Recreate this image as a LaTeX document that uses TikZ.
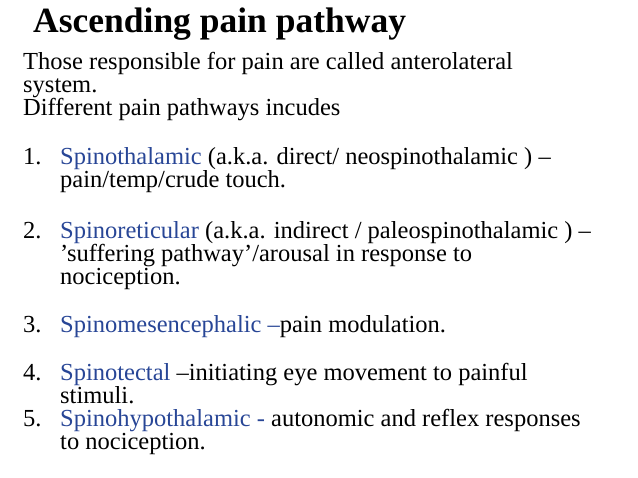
\documentclass[tikz,border=0pt]{standalone}
\usepackage{fontspec}
\setmainfont{Liberation Serif}
\definecolor{tb}{RGB}{40,70,150}
\begin{document}
\begin{tikzpicture}[x=1pt,y=-1pt,
  t/.style={anchor=base west,inner sep=0pt,font=\fontsize{24.5}{27}\selectfont}]
\useasboundingbox (0,0) rectangle (638,478);
\node[anchor=base west,inner sep=0pt,font=\fontsize{35.5}{38}\selectfont\bfseries] (title) at (33,33) {Ascending pain pathway};
\node[t] (l1) at (23,70) {Those responsible for pain are called anterolateral};
\node[t] (l2) at (23,93) {system.};
\node[t] (l3) at (23,116) {Different pain pathways incudes};
\node[t] (n1) at (23,165) {1.};
\node[t] (a1) at (60,165) {\textcolor{tb}{Spinothalamic} (a.k.a. direct/ neospinothalamic ) –};
\node[t] (a1b) at (60,188) {pain/temp/crude touch.};
\node[t] (n2) at (23,239) {2.};
\node[t] (a2) at (60,239) {\textcolor{tb}{Spinoreticular} (a.k.a. indirect / paleospinothalamic ) –};
\node[t] (a2b) at (60,262) {’suffering pathway’/arousal in response to};
\node[t] (a2c) at (60,285) {nociception.};
\node[t] (n3) at (23,333) {3.};
\node[t] (a3) at (60,333) {\textcolor{tb}{Spinomesencephalic –}pain modulation.};
\node[t] (n4) at (23,381) {4.};
\node[t] (a4) at (60,381) {\textcolor{tb}{Spinotectal} –initiating eye movement to painful};
\node[t] (a4b) at (60,404) {stimuli.};
\node[t] (n5) at (23,427) {5.};
\node[t] (a5) at (60,427) {\textcolor{tb}{Spinohypothalamic -} autonomic and reflex responses};
\node[t] (a5b) at (60,450) {to nociception.};
\end{tikzpicture}
\end{document}
